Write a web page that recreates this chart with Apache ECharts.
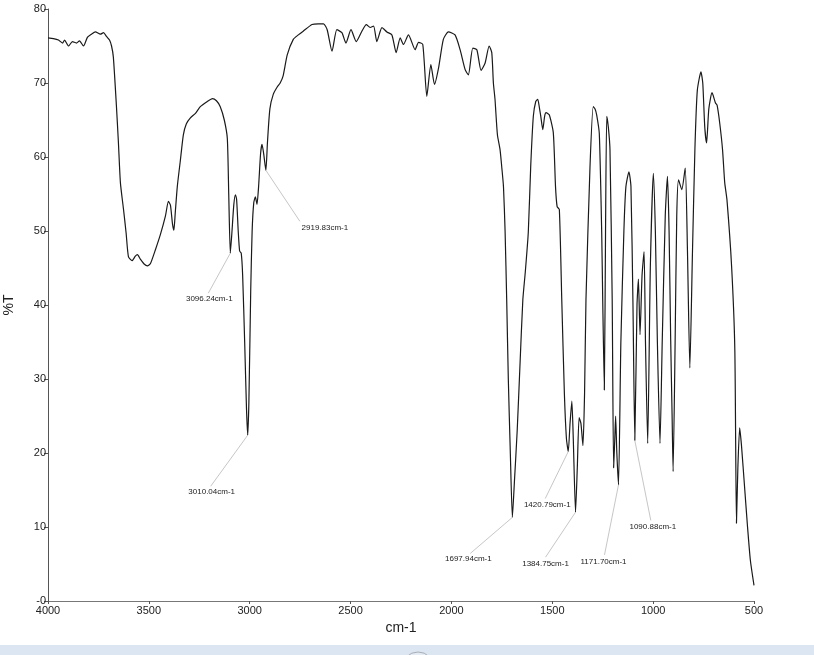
<!DOCTYPE html>
<html>
<head>
<meta charset="utf-8">
<script src="https://cdn.jsdelivr.net/npm/echarts@6/dist/echarts.min.js"></script>
<style>
html,body{margin:0;padding:0;background:#fff;}
#chart{width:814px;height:655px;}
</style>
</head>
<body>
<div id="chart"></div>
<script>
// ---- data ----
const wavenumbers = [4000,3973,3948,3928,3918,3898,3879,3859,3844,3824,3804,3785,3765,3740,3725,3710,3695,3685,3676,3661,3651,3641,3626,3613,3601,3583,3567,3557,3542,3522,3507,3492,3467,3443,3418,3403,3393,3383,3376,3369,3359,3344,3329,3314,3294,3269,3245,3210,3185,3165,3146,3126,3111,3104,3096.24,3089,3079,3071,3065,3057,3050,3042,3035,3025,3016,3010.04,3004,2995,2988,2980,2972,2964,2956,2946,2939,2931,2919.83,2912,2900,2883,2863,2849,2834,2814,2784,2759,2735,2691,2660,2634,2616,2592,2568,2543,2523,2498,2472,2444,2422,2403,2386,2370,2353,2345,2320,2295,2274,2254,2238,2213,2180,2163,2142,2122,2102,2084,2064,2040,2015,1982,1957,1932,1916,1894,1874,1853,1833,1813,1800,1792,1784,1772,1759,1750,1742,1734,1726,1718,1708,1697.94,1688,1674,1660,1646,1634,1619,1607,1594,1582,1572,1563,1557,1547,1538,1531,1515,1495,1484,1476,1465,1453,1440,1430,1420.79,1412,1403,1396,1384.75,1376,1367,1358,1348,1340,1333,1313,1297,1288,1280,1267,1255,1250,1242,1236,1230,1222,1214,1203,1196,1190,1186,1180,1171.70,1160,1145,1135,1120,1110,1100,1090.88,1080,1073,1065,1055,1045,1038,1027,1014,999,989,979,966,955,940,929,921,913,906,901,891,883,874,858,841,830,818,805,793,781,763,754,744,735,724,708,691,683,670,656,645,634,611,595,587,580,571,562,547,532,518,500];
const transmittance = [76.1,76.0,75.8,75.4,75.8,75.0,75.6,75.4,75.7,75.0,76.2,76.6,76.9,76.6,76.8,76.3,75.8,75.0,73.5,67.0,62.0,56.5,53.0,49.8,46.5,46.0,46.6,46.8,46.2,45.5,45.3,45.6,47.5,49.5,52.0,54.0,53.5,51.0,50.1,52.5,56.0,59.5,63.0,64.5,65.3,65.9,66.8,67.5,67.9,67.6,66.8,65.0,62.5,55.0,47.0,49.5,53.5,54.9,54.3,50.0,47.3,47.0,44.0,35.0,26.0,22.4,27.0,42.0,50.0,53.8,54.6,53.6,56.0,60.5,61.7,60.5,58.2,62.0,66.5,68.5,69.5,70.0,71.0,73.8,75.9,76.5,77.0,77.9,78.0,78.0,77.2,74.3,77.2,76.8,75.4,77.2,75.6,77.0,77.9,77.5,77.7,75.6,77.0,77.5,76.9,76.5,74.1,76.1,75.2,76.5,74.5,75.5,75.2,68.2,72.5,69.8,72.0,75.9,76.9,76.5,74.5,71.8,71.1,74.7,74.5,71.7,72.7,75.0,74.1,70.0,67.8,63.0,61.0,58.5,56.0,50.0,40.7,30.0,20.0,11.3,16.0,23.0,32.0,40.7,44.4,49.8,58.7,65.5,67.5,67.8,66.5,65.5,63.7,65.5,66.0,65.7,63.3,56.0,53.3,52.9,40.7,28.0,22.0,20.2,24.0,27.0,22.0,12.0,18.0,24.8,24.0,21.0,28.0,40.7,58.7,66.8,66.5,65.7,63.2,49.8,40.7,28.5,50.0,65.5,64.0,61.0,40.7,18.0,22.0,25.0,20.0,15.7,35.0,50.0,56.0,58.0,56.0,40.0,21.7,40.0,43.5,36.0,44.0,47.2,35.0,21.3,45.0,57.8,50.0,35.0,21.3,35.0,52.0,57.4,50.0,35.3,25.0,17.5,35.0,52.0,56.9,55.6,58.5,47.5,31.5,47.2,61.0,69.0,71.5,70.0,64.0,61.9,66.5,68.7,67.3,67.0,64.6,61.0,56.5,54.2,45.2,33.9,10.5,18.0,23.4,21.0,15.5,10.0,5.5,2.1];

const peakWavenumbers = [3096.24,3010.04,2919.83,1697.94,1420.79,1384.75,1171.70,1090.88];
const peakTransmittance = [47.0,22.4,58.2,11.3,20.2,12.0,15.7,21.7];
const peakLabels = ['3096.24cm-1','3010.04cm-1','2919.83cm-1','1697.94cm-1','1420.79cm-1','1384.75cm-1','1171.70cm-1','1090.88cm-1'];

const xTicks = [4000,3500,3000,2500,2000,1500,1000,500];
const yTicks = [0,10,20,30,40,50,60,70,80];

// ---- layout (pixel offsets of leader-line end and label centre from each peak) ----
const labelLayout = [
  [-22,40,-21,46],
  [-37,51,-36,57],
  [34,51,59,57],
  [-42,36,-44,41],
  [-23,47,-21,53],
  [-30,45,-30,52],
  [-14,70,-15,77],
  [16,80,18,86]
];

const spectrum = wavenumbers.map((w,i)=>[w, transmittance[i]]);
const peaks = peakWavenumbers.map((w,i)=>[w, peakTransmittance[i]]);

const chart = echarts.init(document.getElementById('chart'), null, {renderer:'canvas'});
const FONT = 'Liberation Sans, Arial, sans-serif';

chart.setOption({
  animation:false,
  backgroundColor:'#ffffff',
  grid:{left:48, right:60, top:9, bottom:54, containLabel:false, outerBoundsMode:'none'},
  xAxis:{
    type:'value', inverse:true, min:500, max:4000, interval:500,
    name:'cm-1', nameLocation:'middle', nameGap:10,
    nameTextStyle:{fontSize:14, color:'#222', fontFamily:FONT},
    axisLine:{lineStyle:{color:'#777', width:1}},
    axisTick:{show:true, length:3, lineStyle:{color:'#555'}},
    axisLabel:{fontSize:11, color:'#222', fontFamily:FONT, margin:4,
      formatter:v=> xTicks.includes(v) ? String(v) : ''},
    splitLine:{show:false}
  },
  yAxis:{
    type:'value', min:0, max:80, interval:10,
    name:'%T', nameLocation:'middle', nameGap:32, nameRotate:90,
    nameTextStyle:{fontSize:14, color:'#222', fontFamily:FONT},
    axisLine:{show:true, lineStyle:{color:'#555', width:1}},
    axisTick:{show:true, length:4, lineStyle:{color:'#555'}},
    axisLabel:{fontSize:11, color:'#222', fontFamily:FONT, margin:2,
      formatter:v=> yTicks.includes(v) ? (v===0 ? '-0' : String(v)) : ''},
    splitLine:{show:false}
  },
  series:[
    {
      type:'line', data:spectrum, showSymbol:false, smooth:0.2,
      lineStyle:{color:'#1a1a1a', width:1.2}, silent:true
    },
    {
      type:'custom', data:peaks, silent:true, z:5,
      renderItem:function(params, api){
        const p = api.coord([api.value(0), api.value(1)]);
        const o = labelLayout[params.dataIndex];
        return {type:'group', children:[
          {type:'line', shape:{x1:p[0], y1:p[1], x2:p[0]+o[0], y2:p[1]+o[1]},
           style:{stroke:'#b8b8b8', lineWidth:0.8}},
          {type:'text', x:p[0]+o[2], y:p[1]+o[3],
           style:{text:peakLabels[params.dataIndex], fill:'#222', fontSize:8, fontFamily:FONT,
                  align:'center', verticalAlign:'middle'}}
        ]};
      }
    }
  ],
  graphic:[
    {type:'rect', left:0, top:645, shape:{width:814, height:10}, style:{fill:'#dce6f2'}, silent:true},
    {type:'circle', shape:{cx:418, cy:668, r:16}, style:{fill:'#e4ebf4', stroke:'#a8adb3', lineWidth:1}, silent:true}
  ]
});
</script>
</body>
</html>
